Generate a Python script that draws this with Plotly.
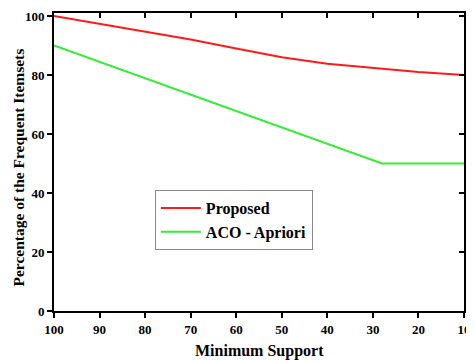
import plotly.graph_objects as go

support_red = [100, 90, 80, 70, 60, 50, 40, 28, 20, 10]
proposed = [100, 97.3, 94.6, 92, 89, 86, 83.8, 82, 81, 80]
support_green = [100, 28, 10]
aco_apriori = [90, 50, 50]
x_ticks = [100, 90, 80, 70, 60, 50, 40, 30, 20, 10]
y_ticks = [0, 20, 40, 60, 80, 100]

font_fam = "Liberation Serif, Times New Roman, serif"

fig = go.Figure()
fig.add_trace(go.Scatter(x=support_red, y=proposed, mode="lines", name="Proposed",
                         line=dict(color="#ff1a1a", width=2)))
fig.add_trace(go.Scatter(x=support_green, y=aco_apriori, mode="lines", name="ACO - Apriori",
                         line=dict(color="#33ee33", width=2)))
# transparent trace anchoring the mirrored axes (inward ticks on top/right)
fig.add_trace(go.Scatter(x=support_green, y=aco_apriori, xaxis="x2", yaxis="y2", mode="lines",
                         line=dict(color="rgba(0,0,0,0)", width=1), showlegend=False, hoverinfo="skip"))

axis_common = dict(showgrid=False, zeroline=False, showline=True, linecolor="black", linewidth=2,
                   tickcolor="black", tickwidth=2, ticklen=5, automargin=False)
fig.update_layout(
    width=466, height=353,
    margin=dict(l=46, r=10, t=5, b=50),
    plot_bgcolor="white", paper_bgcolor="white",
    font=dict(family=font_fam, size=13, color="black"),
    xaxis=dict(range=[100, 10], tickvals=x_ticks, ticks="outside", mirror=True,
               ticklabeloverflow="allow",
               tickfont=dict(size=13, weight="bold"), **axis_common),
    yaxis=dict(range=[0, 101], tickvals=y_ticks, ticks="outside", mirror=True,
               ticklabeloverflow="allow",
               tickfont=dict(size=13, weight="bold"), **axis_common),
    xaxis2=dict(range=[100, 10], tickvals=x_ticks, ticks="inside", overlaying="x", side="top",
                showticklabels=False, anchor="y", **axis_common),
    yaxis2=dict(range=[0, 101], tickvals=y_ticks, ticks="inside", overlaying="y", side="right",
                showticklabels=False, anchor="x", **axis_common),
    legend=dict(x=0.246, y=0.406, xanchor="left", yanchor="top",
                bordercolor="#888888", borderwidth=1, bgcolor="white",
                font=dict(family=font_fam, size=16, weight="bold"),
                tracegroupgap=0, itemwidth=40),
    showlegend=True,
    annotations=[
        dict(text="<b>Minimum Support</b>", xref="paper", yref="paper", x=0.5, y=-0.134,
             xanchor="center", yanchor="middle", showarrow=False,
             font=dict(family=font_fam, size=16, color="black")),
        dict(text="<b>Percentage of the Frequent Itemsets</b>", xref="paper", yref="paper",
             x=-0.1122, y=0.483, xanchor="left", yanchor="middle", textangle=-90, showarrow=False,
             font=dict(family=font_fam, size=15.5, color="black")),
    ],
)
fig.write_html("out.html")
